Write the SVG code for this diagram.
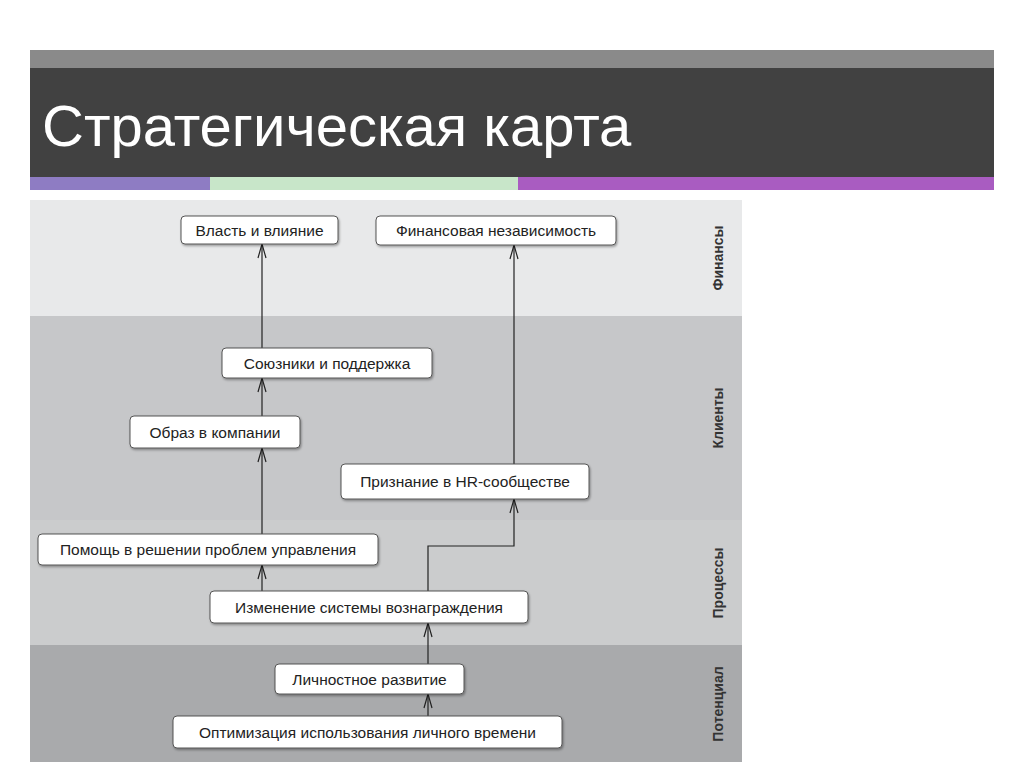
<svg xmlns="http://www.w3.org/2000/svg" width="1024" height="767" viewBox="0 0 1024 767">
<defs>
<marker id="ah" viewBox="0 0 16 10" refX="15" refY="5" markerWidth="16" markerHeight="10" markerUnits="userSpaceOnUse" orient="auto">
<path d="M1,1 L15,5 L1,9" fill="none" stroke="#222" stroke-width="1.2"/>
</marker>
<filter id="sh" x="-5%" y="-20%" width="110%" height="150%"><feDropShadow dx="1" dy="1.5" stdDeviation="1" flood-color="#000" flood-opacity="0.35"/></filter>
</defs>
<style>
.n rect{fill:#fff;stroke:#555;stroke-width:1;filter:url(#sh)}
.n text{font-family:"Liberation Sans",Arial,sans-serif;font-size:15.5px;fill:#222;text-anchor:middle;dominant-baseline:central}
.lab{font-family:"Liberation Sans",Arial,sans-serif;font-size:14px;font-weight:bold;fill:#333;text-anchor:middle;dominant-baseline:central}
#connectors path{fill:none;stroke:#222;stroke-width:1.2}
</style>
<rect width="1024" height="767" fill="#fff"/>
<rect x="30" y="50" width="964" height="18" fill="#8a8a8a"/>
<rect x="30" y="68" width="964" height="109" fill="#414141"/>
<text x="42" y="146" font-family="'Liberation Sans',Arial,sans-serif" font-size="58" fill="#fff">Стратегическая карта</text>
<rect x="30" y="177" width="180" height="13" fill="#8e7cc3"/>
<rect x="210" y="177" width="308" height="13" fill="#c8e6c9"/>
<rect x="518" y="177" width="476" height="13" fill="#a95cc1"/>
<rect x="30" y="200" width="712" height="116" fill="#e8e9ea"/>
<rect x="30" y="316" width="712" height="204" fill="#c6c7c9"/>
<rect x="30" y="520" width="712" height="125" fill="#cbcccd"/>
<rect x="30" y="645" width="712" height="117" fill="#a9aaac"/>
<text class="lab" transform="translate(718,258) rotate(-90)">Финансы</text>
<text class="lab" transform="translate(718,418) rotate(-90)">Клиенты</text>
<text class="lab" transform="translate(718,583) rotate(-90)">Процессы</text>
<text class="lab" transform="translate(718,704) rotate(-90)">Потенциал</text>
<g id="connectors">
<path d="M262,348 V244" marker-end="url(#ah)"/>
<path d="M262,416 V378" marker-end="url(#ah)"/>
<path d="M262,534 V448" marker-end="url(#ah)"/>
<path d="M262,591 V565" marker-end="url(#ah)"/>
<path d="M428,591 V546 H514 V499" marker-end="url(#ah)"/>
<path d="M514,464 V245" marker-end="url(#ah)"/>
<path d="M428,664 V623" marker-end="url(#ah)"/>
<path d="M428,716 V694" marker-end="url(#ah)"/>
</g>
<g id="n1" class="n"><rect x="181" y="216" width="157" height="28" rx="4"/><text x="259.5" y="230">Власть и влияние</text></g>
<g id="n2" class="n"><rect x="376" y="216" width="240" height="29" rx="4"/><text x="496" y="230.5">Финансовая независимость</text></g>
<g id="n3" class="n"><rect x="222" y="348" width="210" height="30" rx="4"/><text x="327" y="363">Союзники и поддержка</text></g>
<g id="n4" class="n"><rect x="130" y="416" width="170" height="32" rx="4"/><text x="215" y="432">Образ в компании</text></g>
<g id="n5" class="n"><rect x="341" y="464" width="248" height="35" rx="4"/><text x="465" y="481.5">Признание в HR-сообществе</text></g>
<g id="n6" class="n"><rect x="38" y="534" width="340" height="31" rx="4"/><text x="208" y="549.5">Помощь в решении проблем управления</text></g>
<g id="n7" class="n"><rect x="210" y="591" width="318" height="32" rx="4"/><text x="369" y="607">Изменение системы вознаграждения</text></g>
<g id="n8" class="n"><rect x="275" y="664" width="189" height="30" rx="4"/><text x="369.5" y="679">Личностное развитие</text></g>
<g id="n9" class="n"><rect x="173" y="716" width="389" height="32" rx="4"/><text x="367.5" y="732">Оптимизация использования личного времени</text></g>
</svg>
